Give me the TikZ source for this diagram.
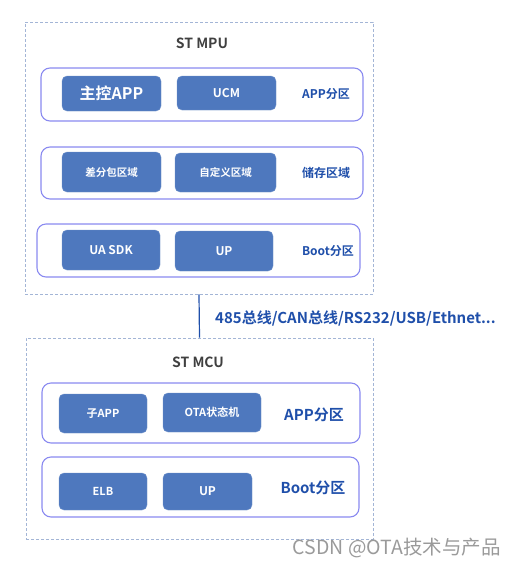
\documentclass[tikz,border=0pt]{standalone}
\usepackage{fontspec}
\setmainfont{Noto Sans CJK SC}
\newfontfamily\cjkb{Noto Sans CJK SC Bold}
\definecolor{boxblue}{HTML}{4E78BE}
\definecolor{panelc}{HTML}{8A8AF0}
\definecolor{outerc}{HTML}{A3B5D6}
\definecolor{labc}{HTML}{1F4FAA}
\definecolor{titc}{HTML}{404040}
\definecolor{wmc}{HTML}{9A9A9A}
\begin{document}
\begin{tikzpicture}[x=1pt,y=-1pt,
  outerbox/.style={draw=outerc, dashed, line width=0.9pt, dash pattern=on 3pt off 2pt, rectangle, inner sep=0},
  panel/.style={draw=panelc, line width=1.1pt, rounded corners=9pt, fill=white, rectangle, inner sep=0},
  blk/.style={fill=boxblue, draw=boxblue!80!white, line width=0.4pt, rounded corners=5pt, rectangle, inner sep=0, text=white, font=\cjkb},
  title/.style={text=titc, font=\cjkb\fontsize{14}{16}\selectfont},
  plab/.style={text=labc, font=\cjkb\fontsize{12}{14}\selectfont},
  conn/.style={draw=labc, line width=1.2pt}
]
\useasboundingbox (0,0) rectangle (516,566);
% MPU
\node[outerbox, minimum width=348, minimum height=272] (mpu) at (199,158) {};
\node[title] (mputitle) at (202,43) {ST MPU};
\node[panel, minimum width=322, minimum height=53] (p1) at (202,94.5) {};
\node[blk, minimum width=99, minimum height=35, font=\cjkb\fontsize{16}{18}\selectfont] (zk) at (111.5,93.5) {主控APP};
\node[blk, minimum width=99, minimum height=34, font=\cjkb\fontsize{12}{14}\selectfont] (ucm) at (226.5,93) {UCM};
\node[plab] (l1) at (326,94) {APP分区};
\node[panel, minimum width=322, minimum height=52] (p2) at (202,173) {};
\node[blk, minimum width=99, minimum height=40, font=\cjkb\fontsize{10.5}{12}\selectfont] (cf) at (111.5,172) {差分包区域};
\node[blk, minimum width=101, minimum height=39, font=\cjkb\fontsize{10.5}{12}\selectfont] (zdy) at (225.5,172.5) {自定义区域};
\node[plab] (l2) at (326,173) {储存区域};
\node[panel, minimum width=323, minimum height=53] (p3) at (198.5,250.5) {};
\node[blk, minimum width=98, minimum height=40, font=\cjkb\fontsize{12}{14}\selectfont] (ua) at (111,250) {UA SDK};
\node[blk, minimum width=98, minimum height=40, font=\cjkb\fontsize{12}{14}\selectfont] (up1) at (224,251) {UP};
\node[plab] (l3) at (328,251) {Boot分区};
% MCU
\node[outerbox, minimum width=347, minimum height=201] (mcu) at (199.5,438.5) {};
\node[title] (mcutitle) at (198,362) {ST MCU};
\node[panel, minimum width=318, minimum height=60] (q1) at (201,413) {};
\node[blk, minimum width=88, minimum height=39, font=\cjkb\fontsize{11}{13}\selectfont] (zapp) at (103,413.5) {子APP};
\node[blk, minimum width=98, minimum height=39, font=\cjkb\fontsize{11}{13}\selectfont] (ota) at (212,412.5) {OTA状态机};
\node[plab, font=\cjkb\fontsize{15}{17}\selectfont] (m1) at (314,415) {APP分区};
\node[panel, minimum width=317, minimum height=60] (q2) at (200.5,487) {};
\node[blk, minimum width=88, minimum height=37, font=\cjkb\fontsize{11}{13}\selectfont] (elb) at (103,491.5) {ELB};
\node[blk, minimum width=89, minimum height=37, font=\cjkb\fontsize{12}{14}\selectfont] (up2) at (207.5,491.5) {UP};
\node[plab, font=\cjkb\fontsize{15}{17}\selectfont] (m2) at (313,488) {Boot分区};
% connector
\draw[conn] (mpu.south) -- (mcu.north);
\node[plab, font=\cjkb\fontsize{15}{17}\selectfont, anchor=west, inner sep=0] (bus) at (215,318) {485总线/CAN总线/RS232/USB/Ethnet...};
% watermark
\node[text=wmc, font=\fontsize{19.5}{21}\selectfont, anchor=east, inner sep=0] (wm) at (501,548) {CSDN @OTA技术与产品};
\end{tikzpicture}
\end{document}
